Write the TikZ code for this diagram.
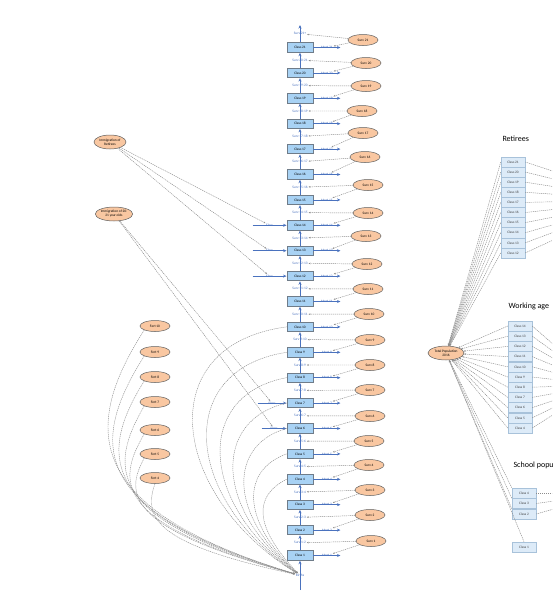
\documentclass[tikz,border=0pt]{standalone}
\usepackage{fontspec}
\setmainfont{Carlito}
\usetikzlibrary{arrows.meta,shapes.geometric}
\definecolor{stockfill}{HTML}{A8D2F4}
\definecolor{stockline}{HTML}{6F7C89}
\definecolor{auxfill}{HTML}{F9C7A1}
\definecolor{auxline}{HTML}{5E5E5E}
\definecolor{flowcol}{HTML}{4A72BE}
\definecolor{infcol}{HTML}{8C8C8C}
\definecolor{shadowfill}{HTML}{DDEBF8}
\definecolor{shadowline}{HTML}{A8C2DA}
\begin{document}
\begin{tikzpicture}[x=1pt,y=-1pt,every node/.style={font=\fontsize{3.5}{3.9}\selectfont},
  stock/.style={draw=stockline,line width=0.9pt,fill=stockfill,minimum width=26pt,minimum height=9.5pt,inner sep=0pt},
  aux/.style={ellipse,draw=auxline,line width=0.5pt,fill=auxfill,minimum width=30pt,minimum height=11pt,inner sep=0pt,align=center},
  flow/.style={draw=flowcol,line width=0.8pt,-{Stealth[length=3.5pt,width=3pt]}},
  flowlbl/.style={text=flowcol,inner sep=0.5pt},
  inf/.style={draw=infcol,line width=0.45pt,dash pattern=on 1.2pt off 0.8pt,-{Stealth[length=2pt,width=1.6pt]}},
  shadowbox/.style={draw=shadowline,line width=0.5pt,fill=shadowfill,minimum width=24pt,minimum height=10.1pt,inner sep=0pt,text=black!75},
  grouptitle/.style={font=\fontsize{8}{9}\selectfont,anchor=west}]
  \useasboundingbox (0,0) rectangle (552,600);
  \clip (0,0) rectangle (552,600);

  % age classes and their flows
  \foreach \i in {1,...,21}
    \node[stock] (c\i) at (300,{47.5+(21-\i)*25.4}) {Class \i};
  \foreach \i [count=\j from 2] in {1,...,20}
    \draw[flow] (c\i.north) -- node[flowlbl] (s\i) {Surv \i-\j} (c\j.south);
  \coordinate (outtop) at (300,25);
  \draw[flow] (c21.north) -- node[flowlbl] (s21) {Surv 21+} (outtop);
  \coordinate (insrc) at (300,590);
  \draw[flow] (insrc) -- node[flowlbl] (births) {Births} (c1.south);
  \foreach \i in {1,...,21}
    \draw[flow] (c\i.east) -- node[flowlbl] (m\i) {Mort \i} ++(27,0);
  \foreach \i/\d in {14/34,13/34,12/34,7/29,6/25} {
    \path (c\i.west) ++(-\d,0) coordinate (in\i);
    \draw[flow] (in\i) -- node[flowlbl] (f\i) {Flow} (c\i.west);
  }

  % survival rates
  \foreach \i/\x/\y in {21/363/40,20/366/63,19/366/86,18/362/111,17/363/133,16/365/157,15/368/185,
      14/368/213,13/366/236,12/367/264,11/368/289,10/369/314,9/370/340,8/370/365,7/370/390,
      6/370/416,5/369/441,4/369/465,3/370/490,2/370/515,1/371/541} {
    \node[aux] (v\i) at (\x,\y) {Surv \i};
    \draw[inf] (v\i) -- (s\i);
    \draw[inf] (v\i) -- (m\i);
  }

  % immigration
  \node[aux,minimum width=32pt,minimum height=14pt] (imret) at (110,142) {Immigration of\\Retirees};
  \node[aux,minimum width=32pt,minimum height=14pt] (imyoung) at (114,214) {Immigration of 20-\\21 year olds};
  \foreach \i in {14,13,12} \draw[inf] (imret) -- (f\i);
  \foreach \i in {7,6} \draw[inf] (imyoung) -- (f\i);

  % fertility
  \foreach \i/\y in {10/326,9/352,8/377,7/402,6/430,5/454,4/478}
    \node[aux] (fert\i) at (155,\y) {Fert \i};
  \draw[inf] (fert10.south west) .. controls (80,430) and (85,510) .. (births);
  \draw[inf] (fert9.south west) .. controls (88,445) and (90,512) .. (births);
  \draw[inf] (fert8.south west) .. controls (98,455) and (98,516) .. (births);
  \draw[inf] (fert7.south west) .. controls (108,468) and (106,520) .. (births);
  \draw[inf] (fert6.south west) .. controls (116,482) and (113,524) .. (births);
  \draw[inf] (fert5.south west) .. controls (126,492) and (122,528) .. (births);
  \draw[inf] (fert4.south) .. controls (142,520) and (160,545) .. (births);
  \draw[inf] (c10.west) .. controls (150,345) and (170,495) .. (births);
  \draw[inf] (c9.west) .. controls (172,370) and (185,500) .. (births);
  \draw[inf] (c8.west) .. controls (193,395) and (200,505) .. (births);
  \draw[inf] (c7.west) .. controls (212,420) and (215,510) .. (births);
  \draw[inf] (c6.west) .. controls (228,445) and (228,515) .. (births);
  \draw[inf] (c5.west) .. controls (242,470) and (240,520) .. (births);
  \draw[inf] (c4.west) .. controls (255,495) and (252,525) .. (births);

  % population totals
  \node[aux,minimum width=36pt,minimum height=14pt] (totpop) at (446,353) {Total Population\\2016};
  \node[grouptitle] at (499,139) {Retirees};
  \node[grouptitle] at (505,306) {Working age};
  \node[grouptitle] at (510,465) {School population};
  \coordinate (retsum) at (640,200);
  \coordinate (worksum) at (600,385);
  \coordinate (schoolsum) at (610,493);
  \foreach \i [count=\n from 0] in {21,...,12} {
    \node[shadowbox] (r\i) at (513,{162+\n*10.1}) {Class \i};
    \draw[inf] (r\i.west) -- (totpop);
    \draw[inf] (r\i.east) -- (retsum);
  }
  \foreach \i [count=\n from 0] in {14,...,4} {
    \node[shadowbox] (w\i) at (520,{326+\n*10.2}) {Class \i};
    \draw[inf] (w\i.west) -- (totpop);
    \draw[inf] (w\i.east) -- (worksum);
  }
  \foreach \i/\y in {4/493,3/503.5,2/514} {
    \node[shadowbox] (p\i) at (524,\y) {Class \i};
    \draw[inf] (p\i.north west) -- (totpop);
    \draw[inf] (p\i.east) -- (schoolsum);
  }
  \node[shadowbox] (p1) at (524,547) {Class 1};
  \draw[inf] (p1.north) -- (totpop);
\end{tikzpicture}
\end{document}
